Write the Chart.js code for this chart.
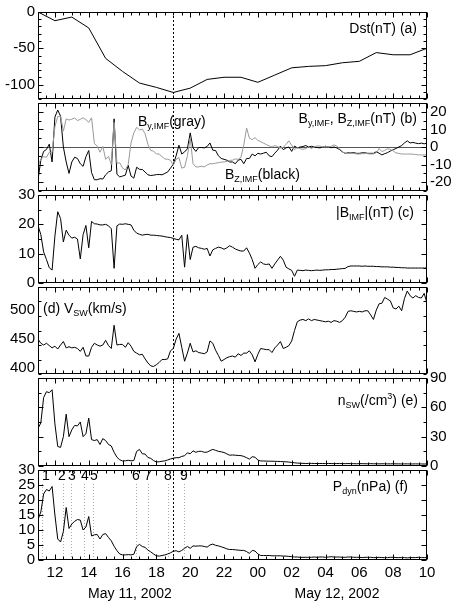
<!DOCTYPE html>
<html>
<head>
<meta charset="utf-8">
<script src="https://cdn.jsdelivr.net/npm/chart.js@4.4.1/dist/chart.umd.min.js"></script>
<style>
  body { margin: 0; background: #fff; }
  #wrap { position: relative; width: 455px; height: 606px; overflow: hidden;
          font-family: "Liberation Sans", Arial, sans-serif; color: #000; }
  #wrap canvas { position: absolute; left: 0; }
  .lbl { position: absolute; font-size: 14px; line-height: 16px; white-space: nowrap; }
  .lbl sub { font-size: 9px; vertical-align: -3px; line-height: 0; }
  .lbl sup { font-size: 9px; vertical-align: 6px; line-height: 0; }
  .num { position: absolute; font-size: 14px; line-height: 16px; transform: translateX(-50%); white-space: nowrap; }
</style>
</head>
<body>
<div id="wrap">
  <div class="lbl" style="right:38px;top:20px">Dst(nT) (a)</div>
  <div class="lbl" style="right:38px;top:110px">B<sub>y,IMF</sub>, B<sub>Z,IMF</sub>(nT) (b)</div>
  <div class="lbl" style="left:138px;top:113px">B<sub>y,IMF</sub>(gray)</div>
  <div class="lbl" style="left:225px;top:166px">B<sub>Z,IMF</sub>(black)</div>
  <div class="lbl" style="right:41px;top:204px">|B<sub>IMF</sub>|(nT) (c)</div>
  <div class="lbl" style="left:43px;top:300px">(d) V<sub>SW</sub>(km/s)</div>
  <div class="lbl" style="right:37px;top:392px">n<sub>SW</sub>(/cm<sup>3</sup>) (e)</div>
  <div class="lbl" style="right:47px;top:478px">P<sub>dyn</sub>(nPa) (f)</div>
  <div class="num" style="left:46px;top:467px">1</div>
  <div class="num" style="left:62px;top:467px">2</div>
  <div class="num" style="left:72px;top:467px">3</div>
  <div class="num" style="left:85px;top:467px">4</div>
  <div class="num" style="left:94px;top:467px">5</div>
  <div class="num" style="left:136px;top:467px">6</div>
  <div class="num" style="left:148px;top:467px">7</div>
  <div class="num" style="left:168px;top:467px">8</div>
  <div class="num" style="left:184px;top:467px">9</div>
  <div class="num" style="left:130px;top:585px">May 11, 2002</div>
  <div class="num" style="left:337px;top:585px">May 12, 2002</div>
</div>
<script>
// time grid: hours since 00 UT May 11, 10-minute steps from 11:00 to 34:00 (10 UT May 12)
const T_START = 11, T_STEP = 1 / 6, N_PTS = 139;
const hours = Array.from({ length: N_PTS }, (_, i) => T_START + i * T_STEP);

// Dst, hourly
const dstHours = [11,12,13,14,15,16,17,18,19,20,21,22,23,24,25,26,27,28,29,30,31,32,33,34];
const dstVals  = [0,-12,-7,-22,-64,-82,-98,-104,-111,-105,-93,-90,-90,-97,-87,-77,-75,-74,-70,-68,-56,-59,-59,-50];

// IMF By (gray), nT
const byVals = [
  -10.4,-7,-5.5,-5.8,-3,-3,11.5,17.3,17.5,9,
  16,15.3,15.8,16.5,15,15.7,16.6,15.5,14,16.6,
  2,0.5,-3,0.3,-7,-5.3,-10,14,-9.2,-9,
  -12,-13,-10,2.3,8,11.2,9.7,10.2,7.5,1.5,
  -2,-2.3,-4,-4,-5.5,-6.8,-7,-7.5,-10.4,-7,
  -6,-12,-11.5,-5,5,-9.5,-11.3,-11.3,-11,-11.3,
  -10.2,-9.5,-9.5,-9.2,-8.9,-8.6,-8.5,-8.2,-7.6,-7.5,
  -6.8,-7,-5.8,1,10.8,5,4.2,5.3,3.8,3,
  2.2,1.4,0.7,0,0.8,0.2,-0.5,-0.2,1.5,3.5,
  1,-1.5,-0.3,-1,-1.3,-0.9,0,-0.8,0,0.6,
  0.5,0,0.4,0,0.4,1.2,0.5,-1,-2.8,-3.6,
  -3.6,-3.6,-3.7,-3.9,-4,-3.8,-3.6,-3.8,-4,-3.9,
  -3.4,-0.9,-2.6,-1.9,-1,-1.4,-2.2,-3.4,-3.6,-4,
  -4,-4,-4,-4.1,-4.3,-4.5,-4.5,-4.5,-4.5
];

// IMF Bz (black), nT
const bzVals = [
  -18.6,-7.5,-2.5,-1.4,1.6,-8.5,17,21,17.5,0,
  -8.5,-15,-8.5,-5.8,-6.5,-9.5,-11,-5.5,-2,-14.5,
  -18.6,-18.6,-18,-18.2,-15.8,-14.2,-13.5,16,-15.5,-17,
  -16.5,-16,-10.4,-16.5,-17.7,-11.5,-12.7,-12.8,-14.2,-15.8,
  -16.2,-16,-15.7,-15.6,-15.8,-15,-14.2,-12,-9.8,-5,
  1,-4,-2.8,-1,8,-0.5,-2.5,-0.3,-0.3,-0.5,
  0.3,2.3,-1.8,-2,-5,-6.5,-7,-7.5,-8.5,-8.5,
  -9.5,-7.5,-7,-9.5,-6.5,-6.5,-4,-5,-3.6,-4,
  -3.5,-3,-5,-5.5,-3.5,-1.8,0.5,-1.5,-0.5,0,
  -2.5,0.5,-0.5,0,0.3,0.8,0,0.4,0,-0.3,
  -0.5,0,0.4,0,-0.4,0,-0.5,-1.5,-2.8,-3.6,
  -3.3,-3.4,-3.2,-3.6,-3.6,-3.3,-3.3,-3.6,-3.6,-3.6,
  -2.7,-3.5,-4.5,-3.8,-3.2,-2.3,-1.6,-0.8,0,0.8,
  2.3,3.5,2.3,2.6,2.2,1.9,2.2,1.8,2.2
];

// |B IMF|, nT
const btVals = [
  19.6,16.5,10.6,8,5.2,4.4,16,24.3,22,14,
  18,16.3,15.3,15.6,15,8.2,16.5,19.6,12,21,
  20.2,20.1,19.8,19.8,20,19.5,18.5,5,19.5,20.1,
  20,20.2,20,19.8,18,17,16.6,16.3,16.5,16.6,
  16.3,16.3,16.2,16.1,16,15.8,15.6,15.5,15.2,14.9,
  14.7,16.3,5.4,16.5,8,12.2,12.5,12,11.8,11.5,
  11.8,9.2,11.3,11.8,12.2,12,11.5,12,12.7,12.2,
  11.6,11.2,10.9,10.9,12,10.2,8,5,6.3,7.2,
  6.5,6.3,6.5,5,6.5,7.8,9.1,7.8,5.4,4.8,
  4.3,2.3,4.4,4.3,4.2,4.4,4.3,4.2,4.3,4.4,
  4.3,4.4,4.5,4.5,4.6,4.6,4.7,4.8,4.9,5,
  5.6,5.8,5.8,5.8,5.8,5.7,5.8,5.7,5.7,5.7,
  5.6,5.6,5.5,5.5,5.5,5.4,5.4,5.3,5.3,5.2,
  5.2,5.1,5.1,5.1,5.1,5.1,5.1,5.1,5.1
];

// solar wind speed, km/s
const vswVals = [
  450,443,440,443,439,435,438,433,440,446,
  435,437,435,436,434,429,436,421,421,436,
  443,440,438,440,448,439,434,474,440,441,
  441,436,444,438,429,426,423,424,416,409,
  404,403,406,410,415,415,416,430,434,450,
  460,436,412,426,443,428,430,427,426,425,
  428,447,443,431,422,412,415,418,420,421,
  419,425,422,426,426,430,423,411,424,434,
  433,432,432,427,435,440,446,434,436,439,
  447,465,480,483,484,482,485,482,484,483,
  482,481,480,481,479,482,481,479,482,488,
  498,499,498,497,498,497,499,499,492,484,
  500,511,512,522,519,516,504,502,507,499,
  520,533,525,521,525,522,521,529,512
];

// solar wind density, /cm^3
const nswVals = [
  38.5,44,70,76,75,78,43,20,19,30,
  53,30,37,41.5,41,45,30,33,49,27,
  26,27,22,28,26,22,20.5,14,9,6.3,
  5.2,5.3,5.9,5.3,5.6,15,17,12.5,12.2,8.7,
  7.8,5.5,4.2,4.3,4.9,5.2,6.2,7.2,8,8.5,
  8.5,9.8,10.5,13.5,12.5,15.5,14,15,15,14,
  14.2,15.7,17,16,15,14.5,13.8,12.4,11,11.3,
  11,10.8,10.6,9.8,8.5,7,9.5,9,6,5.2,
  5.1,5,4.9,4.9,4.8,4.7,4.6,4.4,4.3,4,
  3.6,3.3,3,2.8,2.7,2.6,2.6,2.7,2.6,2.5,
  2.6,2.5,2.5,2.6,2.5,2.4,2.5,2.5,2.4,2.4,
  2.5,2.4,2.4,2.3,2.4,2.4,2.3,2.3,2.4,2.3,
  2.3,2.2,2.3,2.3,2.2,2.2,2.3,2.2,2.2,2.1,
  2.2,2.2,2.1,2.1,2.2,2.1,2.1,2,2.1
];

// dynamic pressure, nPa
const pdynVals = [
  13.5,16,22,23.5,23,24.5,15,7,6,9.5,
  17.5,10.5,12,12.9,13.5,13.3,10,11,14.5,8,
  8.4,8.5,7,8.5,8.8,7.5,6.4,4.6,3.1,2,
  1.7,1.7,1.8,1.7,1.9,4.5,5.2,4.5,4.2,3.3,
  2.7,2,1.4,1.3,1.5,1.7,2,2.4,2.9,3.1,
  2.7,3.2,3.9,4.5,3.9,4.7,4.6,4.7,4.7,4.5,
  4.3,5,5.3,4.9,4.7,4.4,4.1,3.7,3.5,3.5,
  3.4,3.3,3.2,3.2,2.8,2.2,3.2,3,2,1.5,
  1.5,1.5,1.5,1.4,1.4,1.4,1.4,1.3,1.3,1.2,
  1.1,1,1,0.9,0.9,0.9,0.9,0.9,1,0.9,
  1,1,0.9,1,1.1,1,1,1,0.9,0.9,
  1,1,0.9,0.9,0.9,0.8,0.9,0.9,0.9,0.8,
  0.8,0.9,0.8,0.8,0.8,0.9,0.9,0.8,0.8,0.8,
  0.8,0.7,0.8,0.8,0.8,0.9,0.8,0.8,0.8
];

// marked pressure-pulse times (hours), Dst minimum time
const eventHours = [11.23, 12.48, 12.97, 13.72, 14.26, 16.82, 17.51, 18.70, 19.63];
const dstMinHour = 19;
const xTickHours = [12,14,16,18,20,22,24,26,28,30,32,34];

const BLACK = '#000';
const GRAY  = '#999';
Chart.defaults.font.family = '"Liberation Sans", Arial, sans-serif';
Chart.defaults.font.size = 15;
Chart.defaults.color = BLACK;

const pts = (xs, ys) => xs.map((x, i) => ({ x, y: ys[i] }));
const line = (data, color) => ({
  data, borderColor: color, borderWidth: 1, pointRadius: 0, tension: 0, fill: false
});

const panels = [
  { top: 10,  bottom: 101, min: -120, max: 0,   side: 'left',  labels: [0,-50,-100], minor: 10,
    datasets: [line(pts(dstHours, dstVals), BLACK)] },
  { top: 101, bottom: 193, min: -25,  max: 25,  side: 'right', labels: [20,10,0,-10,-20], minor: 5, zero: true,
    datasets: [line(pts(hours, byVals), GRAY), line(pts(hours, bzVals), BLACK)] },
  { top: 193, bottom: 285, min: 0,    max: 30,  side: 'left',  labels: [0,10,20,30], minor: 5,
    datasets: [line(pts(hours, btVals), BLACK)] },
  { top: 285, bottom: 376, min: 390,  max: 540, side: 'left',  labels: [400,450,500], minor: 25,
    datasets: [line(pts(hours, vswVals), BLACK)] },
  { top: 376, bottom: 468, min: 0,    max: 90,  side: 'right', labels: [0,30,60,90], minor: 15,
    datasets: [line(pts(hours, nswVals), BLACK)] },
  { top: 468, bottom: 560, min: 0,    max: 30,  side: 'left',  labels: [0,5,10,15,20,25,30], minor: 5, events: true,
    datasets: [line(pts(hours, pdynVals), BLACK)] }
];

function makeFrame(p) {
  return {
    id: 'frame',
    beforeDatasetsDraw(chart) {
      const { ctx, chartArea: a, scales: { x, y } } = chart;
      ctx.save();
      ctx.lineWidth = 1;
      if (p.zero) {
        const yz = Math.round(y.getPixelForValue(0)) + 0.5;
        ctx.strokeStyle = '#555';
        ctx.beginPath(); ctx.moveTo(a.left, yz); ctx.lineTo(a.right, yz); ctx.stroke();
      }
      if (p.events) {
        ctx.strokeStyle = '#aaa';
        ctx.setLineDash([1, 2]);
        eventHours.forEach(h => {
          const xx = Math.round(x.getPixelForValue(h)) + 0.5;
          ctx.beginPath(); ctx.moveTo(xx, a.top + 14); ctx.lineTo(xx, a.bottom); ctx.stroke();
        });
      }
      ctx.strokeStyle = BLACK;
      ctx.setLineDash([2, 2]);
      const xd = Math.round(x.getPixelForValue(dstMinHour)) + 0.5;
      ctx.beginPath(); ctx.moveTo(xd, a.top); ctx.lineTo(xd, a.bottom); ctx.stroke();
      ctx.restore();
    },
    afterDatasetsDraw(chart) {
      const { ctx, chartArea: a, scales: { x, y } } = chart;
      ctx.save();
      ctx.strokeStyle = BLACK;
      ctx.lineWidth = 1;
      const L = Math.round(a.left) + 0.5, R = Math.round(a.right) - 0.5;
      const Tp = Math.round(a.top) + 0.5, B = Math.round(a.bottom) - 0.5;
      ctx.strokeRect(L, Tp, R - L, B - Tp);
      ctx.beginPath();
      for (let h = 11; h <= 34.001; h += 0.5) {
        const xx = Math.round(x.getPixelForValue(h)) + 0.5;
        const len = (h % 2 === 0) ? 5 : 3;
        ctx.moveTo(xx, Tp); ctx.lineTo(xx, Tp + len);
        ctx.moveTo(xx, B);  ctx.lineTo(xx, B - len);
      }
      for (let v = p.min; v <= p.max + 1e-6; v += p.minor) {
        const yy = Math.round(y.getPixelForValue(v)) + 0.5;
        const len = p.labels.includes(v) ? 5 : 3;
        ctx.moveTo(L, yy); ctx.lineTo(L + len, yy);
        ctx.moveTo(R, yy); ctx.lineTo(R - len, yy);
      }
      ctx.stroke();
      ctx.restore();
    }
  };
}

const wrap = document.getElementById('wrap');
panels.forEach((p, idx) => {
  const isLast = idx === panels.length - 1;
  const padTop = 10, padBottom = isLast ? 0 : 10, xAxisH = isLast ? 46 : 0;
  const canvas = document.createElement('canvas');
  canvas.width = 455;
  canvas.height = (p.bottom - p.top) + padTop + padBottom + xAxisH;
  canvas.style.top = (p.top - padTop) + 'px';
  wrap.insertBefore(canvas, wrap.firstChild);

  new Chart(canvas, {
    type: 'line',
    data: { datasets: p.datasets },
    options: {
      responsive: false, animation: false, devicePixelRatio: 1,
      layout: { autoPadding: false, padding: {
        top: padTop, bottom: padBottom,
        left: p.side === 'left' ? 0 : 38, right: p.side === 'left' ? 28 : 0 } },
      plugins: { legend: { display: false }, tooltip: { enabled: false } },
      scales: {
        x: {
          type: 'linear', min: 11, max: 34, display: isLast,
          afterFit(s) { s.height = xAxisH; },
          afterBuildTicks(s) { s.ticks = xTickHours.map(v => ({ value: v })); },
          ticks: { padding: 4, maxRotation: 0, autoSkip: false,
                   callback: v => String(v % 24).padStart(2, '0') },
          grid: { drawOnChartArea: false, drawTicks: false },
          border: { display: false }
        },
        y: {
          type: 'linear', position: p.side, min: p.min, max: p.max,
          afterFit(s) { s.width = p.side === 'left' ? 38 : 28; },
          afterBuildTicks(s) { s.ticks = p.labels.map(v => ({ value: v })); },
          ticks: { padding: 3, autoSkip: false },
          grid: { display: false, drawTicks: false },
          border: { display: false }
        }
      }
    },
    plugins: [makeFrame(p)]
  });
});
</script>
</body>
</html>
